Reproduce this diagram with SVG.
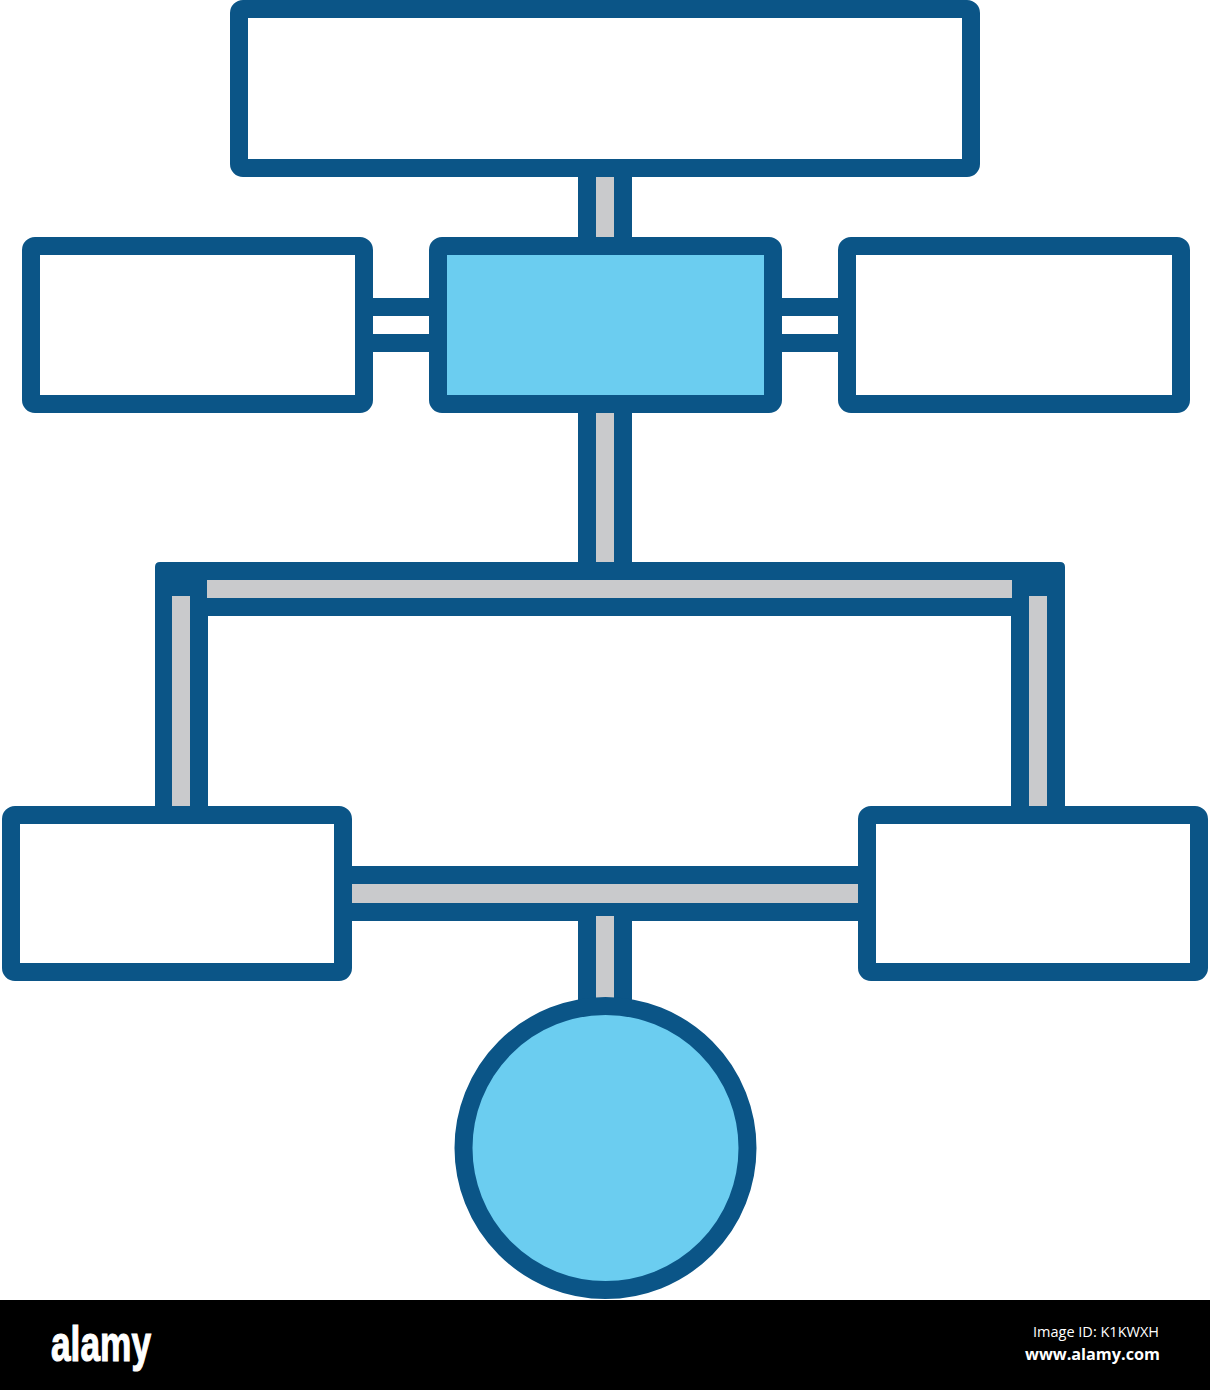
<svg xmlns="http://www.w3.org/2000/svg" width="1210" height="1390" viewBox="0 0 1210 1390">
<style>
.box{fill:#ffffff;stroke:#0B5587;stroke-width:18;stroke-linejoin:round}
.hl{fill:#6BCDF0}
.dk{fill:#0B5587}
.gr{fill:#C9CACC}
.wt{fill:#ffffff}
.ft{fill:#ffffff;font-family:"Open Sans","Noto Sans","Liberation Sans",sans-serif}
</style>
<rect width="1210" height="1390" fill="#ffffff"/>
<g id="connectors">
  <rect class="dk" x="578" y="170" width="54" height="72"/>
  <rect class="gr" x="596" y="170" width="18" height="72"/>
  <rect class="dk" x="578" y="408" width="54" height="160"/>
  <rect class="gr" x="596" y="408" width="18" height="160"/>
  <rect class="dk" x="368" y="298" width="66" height="54"/>
  <rect class="wt" x="368" y="316" width="66" height="18"/>
  <rect class="dk" x="777" y="298" width="66" height="54"/>
  <rect class="wt" x="777" y="316" width="66" height="18"/>
  <path class="dk" d="M160 562 H1060 Q1065 562 1065 567 V810 H1011 V616 H208 V810 H155 V567 Q155 562 160 562 Z"/>
  <rect class="gr" x="207" y="580" width="805" height="18"/>
  <rect class="gr" x="172" y="596" width="18" height="212"/>
  <rect class="gr" x="1029" y="596" width="18" height="212"/>
  <rect class="dk" x="347" y="866" width="516" height="55"/>
  <rect class="gr" x="347" y="884" width="516" height="19"/>
  <rect class="dk" x="578" y="916" width="54" height="90"/>
  <rect class="gr" x="596" y="916" width="18" height="82"/>
</g>
<g id="node-top"><rect class="box" x="239" y="9" width="732" height="159" rx="4"/></g>
<g id="node-left"><rect class="box" x="31" y="246" width="333" height="158" rx="4"/></g>
<g id="node-center"><rect class="box hl" x="438" y="246" width="335" height="158" rx="4"/></g>
<g id="node-right"><rect class="box" x="847" y="246" width="334" height="158" rx="4"/></g>
<g id="node-lower-left"><rect class="box" x="11" y="815" width="332" height="157" rx="4"/></g>
<g id="node-lower-right"><rect class="box" x="867" y="815" width="332" height="157" rx="4"/></g>
<g id="node-circle"><circle class="box hl" cx="605.5" cy="1148" r="142"/></g>
<g id="footer">
  <rect x="0" y="1300" width="1210" height="90" fill="#000000"/>
  <text x="51" y="1361" font-family="Liberation Sans, Arial, sans-serif" font-weight="bold" font-size="50" fill="#ffffff" stroke="#ffffff" stroke-width="1.2" textLength="100" lengthAdjust="spacingAndGlyphs">alamy</text>
  <text class="ft" x="1159" y="1337" text-anchor="end" font-size="14" textLength="126" lengthAdjust="spacingAndGlyphs">Image ID: K1KWXH</text>
  <text class="ft" x="1160" y="1360" text-anchor="end" font-weight="bold" font-size="16" textLength="135" lengthAdjust="spacingAndGlyphs">www.alamy.com</text>
</g>
</svg>
